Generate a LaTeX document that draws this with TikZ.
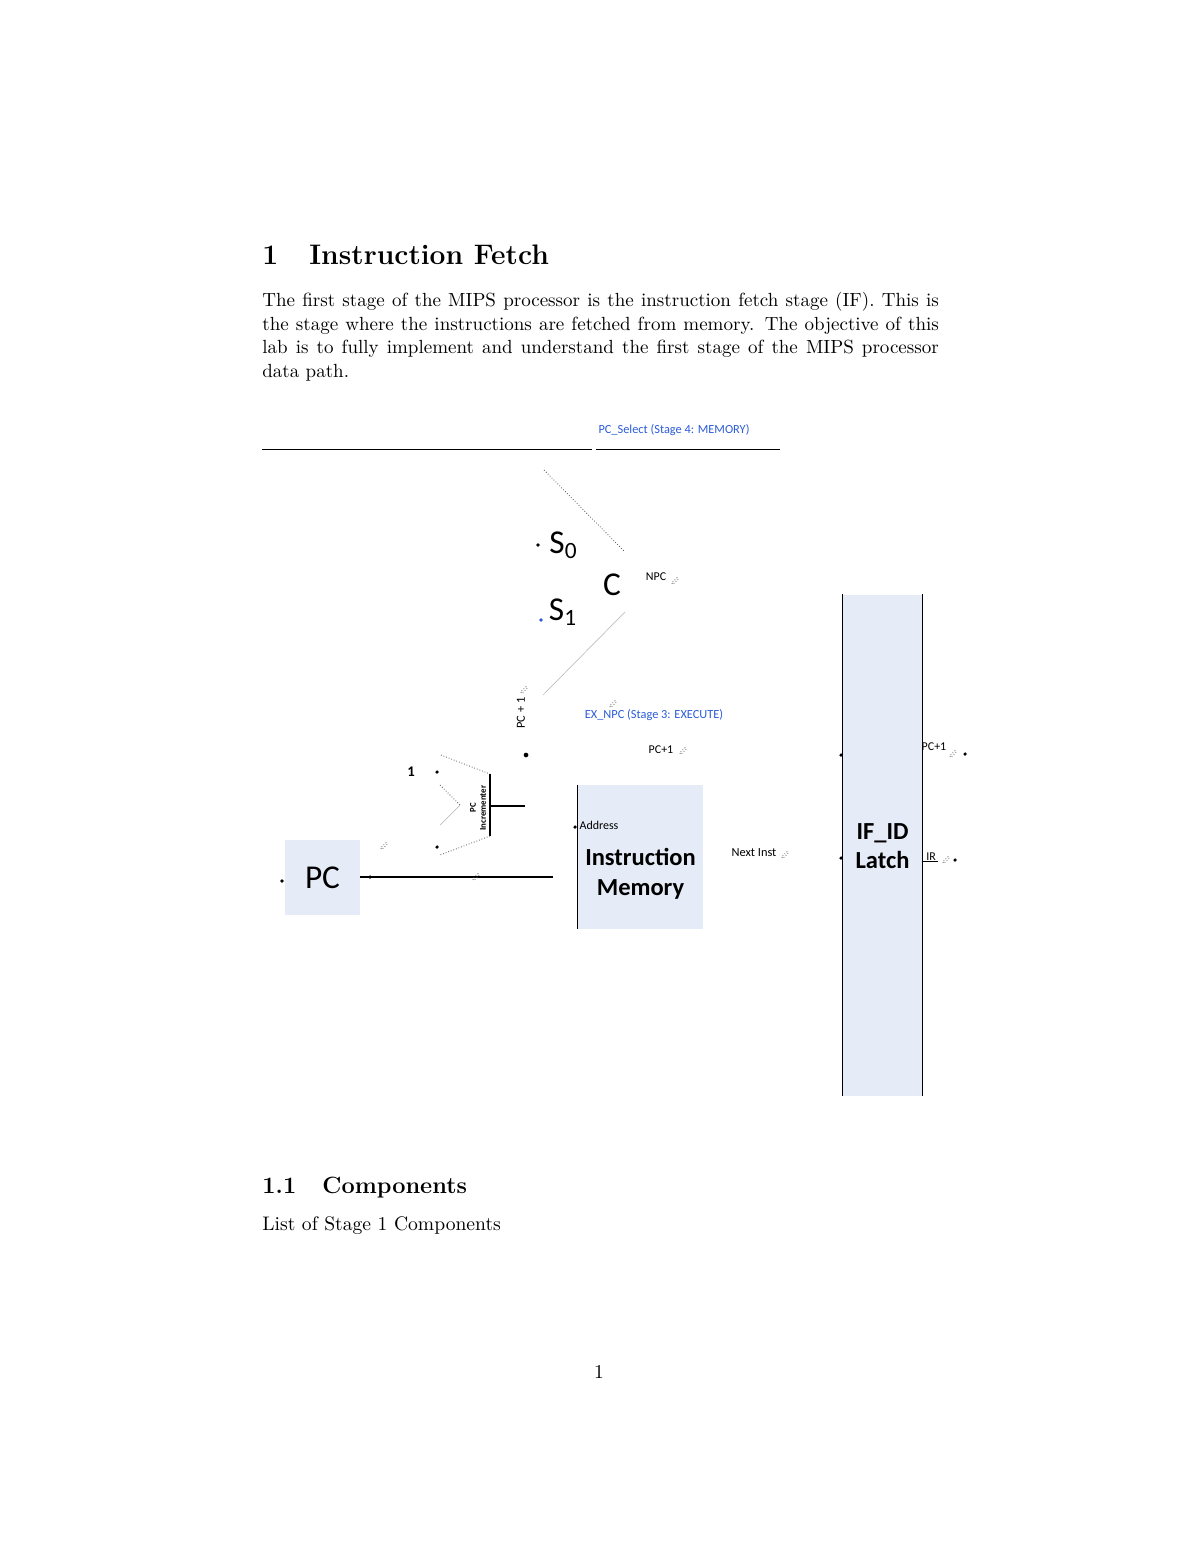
\documentclass[tikz,border=0pt]{standalone}
\usepackage{fontspec}
\usepackage{tikz}
\newfontfamily\calibri{Carlito}
\definecolor{boxfill}{HTML}{E6ECF7}
\definecolor{wireblue}{HTML}{2A5BD7}
\begin{document}
\begin{tikzpicture}[
    x=0.51pt, y=-0.51pt,
    block/.style={rectangle, fill=boxfill, inner sep=0pt, font=\calibri},
    pin/.style={circle, fill=black, minimum size=1.8pt, inner sep=0pt},
    blue pin/.style={circle, fill=wireblue, minimum size=2pt, inner sep=0pt},
    squig/.style={rectangle, draw=black!65, densely dotted, line width=0.4pt, minimum width=4pt, minimum height=1pt, inner sep=0pt, rotate=45},
    tiny label/.style={font=\calibri\fontsize{6.1}{7}\selectfont, inner sep=0pt},
    blue label/.style={font=\calibri\fontsize{6.3}{7}\selectfont, text=wireblue, inner sep=0pt},
    big label/.style={font=\calibri\fontsize{17}{18}\selectfont, inner sep=0pt},
    wire/.style={draw, line width=0.7pt},
    faint/.style={draw=black!25, line width=0.35pt},
    dash wire/.style={draw=black!70, line width=0.4pt, densely dotted}
]
  \useasboundingbox (0,0) rectangle (1200,1553);

  % page text
  \node[anchor=base west, inner sep=0pt, font=\Large\bfseries] (secnum) at (262,265) {1};
  \node[anchor=base west, inner sep=0pt, font=\Large\bfseries] (sectitle) at (309,265) {Instruction Fetch};
  \node[anchor=north west, inner sep=0pt, text width=345pt, align=justify, font=\fontsize{9.7}{12}\selectfont] (intro) at (262,292) {The first stage of the MIPS processor is the instruction fetch stage (IF). This is the stage where the instructions are fetched from memory. The objective of this lab is to fully implement and understand the first stage of the MIPS processor data path.};
  \node[anchor=base west, inner sep=0pt, font=\large\bfseries] (subnum) at (262,1193) {1.1};
  \node[anchor=base west, inner sep=0pt, font=\large\bfseries] (subtitle) at (322,1193) {Components};
  \node[anchor=base west, inner sep=0pt] (listline) at (262,1230) {List of Stage 1 Components};
  \node[anchor=base, inner sep=0pt] (pagenum) at (599,1378) {1};

  % blocks
  \node[block, minimum width=38.3pt, minimum height=38.3pt, font=\calibri\fontsize{17}{18}\selectfont] (pc) at (322.5,877.5) {PC};
  \node[block, minimum width=63.8pt, minimum height=73.4pt] (imem) at (640.5,857) {};
  \node[font=\calibri\bfseries\fontsize{12.5}{15}\selectfont, align=center, inner sep=0pt] (imemtext) at (640.5,874) {Instruction\\Memory};
  \node[block, minimum width=40.3pt, minimum height=255.5pt] (latch) at (882.5,845) {};
  \node[font=\calibri\bfseries\fontsize{12.5}{15}\selectfont, align=center, inner sep=0pt] (latchtext) at (882.5,846) {IF\_ID\\Latch};
  \draw[wire] (imem.north west) -- (imem.south west);
  \draw[wire] (latch.north west) -- (latch.south west);
  \draw[wire] (latch.north east) -- (latch.south east);

  % select line and mux
  \coordinate (selleft) at (262,449.5);
  \coordinate (selgapl) at (592,449.5);
  \coordinate (selgapr) at (596,449.5);
  \coordinate (selright) at (780,449.5);
  \draw[wire] (selleft) -- (selgapl);
  \draw[wire] (selgapr) -- (selright);
  \node[blue label] (pcselect) at (674,430) {PC\_Select (Stage 4: MEMORY)};
  \coordinate (muxtop) at (544,470);
  \coordinate (muxa) at (625,552);
  \coordinate (muxb) at (625,612);
  \coordinate (muxbot) at (543,695);
  \draw[dash wire] (muxtop) -- (muxa);
  \draw[faint] (muxb) -- (muxbot);
  \node[big label] (szero) at (563.5,545) {S\textsubscript{0}};
  \node[big label] (sone) at (563,612) {S\textsubscript{1}};
  \node[big label] (muxc) at (612,585) {C};
  \node[pin] (szeropin) at (538,545) {};
  \node[blue pin] (sonepin) at (541,620) {};
  \node[tiny label] (npc) at (656,577) {NPC};
  \node[blue label] (exnpc) at (654,715.5) {EX\_NPC (Stage 3: EXECUTE)};
  \node[tiny label] (pcone) at (661,750) {PC+1};
  \node[tiny label, font=\calibri\fontsize{6.3}{7}\selectfont, rotate=90] (pcup) at (521,713) {PC + 1};
  \node[pin, minimum size=2.4pt] (pcuppin) at (526,755) {};

  % incrementer
  \coordinate (adda) at (441,755);
  \coordinate (addb) at (490,774);
  \coordinate (addc) at (490,836);
  \coordinate (addd) at (440,855);
  \coordinate (adde) at (440,785);
  \coordinate (addf) at (460,805);
  \coordinate (addg) at (440,825);
  \coordinate (addout) at (525,806);
  \coordinate (addmid) at (490,806);
  \draw[dash wire] (adda) -- (addb);
  \draw[wire] (addb) -- (addc);
  \draw[dash wire] (addc) -- (addd);
  \draw[dash wire] (adde) -- (addf);
  \draw[faint] (addf) -- (addg);
  \draw[wire] (addmid) -- (addout);
  \node[font=\calibri\bfseries\fontsize{7.5}{8}\selectfont, inner sep=0pt] (addone) at (411,771.5) {1};
  \node[pin] (addpina) at (437,772) {};
  \node[pin] (addpinb) at (437,847) {};
  \node[font=\calibri\bfseries\fontsize{4.5}{5}\selectfont, rotate=90, align=center, inner sep=0pt] (addname) at (478,808) {PC\\Incrementer};

  % pc to memory
  \coordinate (pcend) at (553,877);
  \draw[wire] (pc.east |- pcend) -- (pcend);
  \node[pin] (pcinpin) at (282,881) {};
  \node[pin] (pcoutpin) at (370,877) {};
  \node[tiny label] (address) at (599,825) {Address};
  \node[pin] (addresspin) at (575,827) {};
  \node[tiny label, font=\calibri\fontsize{6.3}{7}\selectfont] (nextinst) at (754,853) {Next Inst};
  \node[pin] (latchpina) at (841,755) {};
  \node[pin] (latchpinb) at (841,858) {};
  \node[tiny label] (pcright) at (934,747) {PC+1};
  \node[pin] (pcrightpin) at (965,754) {};
  \node[tiny label, anchor=base] (ir) at (931,860) {IR};
  \coordinate (irleft) at (922,861);
  \coordinate (irright) at (938,861);
  \draw[line width=0.35pt] (irleft) -- (irright);
  \node[pin] (irpin) at (955,860) {};

  % broken marks
  \foreach \x/\y in {675/581, 524/690, 613/704, 683/751, 785/855, 384/846, 476/877, 953/754, 946/860} {
    \node[squig] at (\x,\y) {};
  }
\end{tikzpicture}
\end{document}
